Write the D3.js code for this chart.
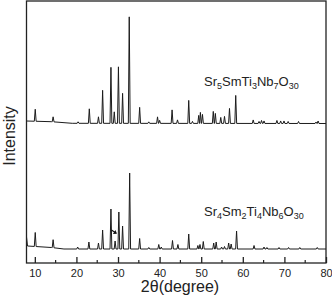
<!DOCTYPE html>
<html>
  <head>
    <script src="https://d3js.org/d3.v7.min.js"></script>
    <style>
      body { margin: 0; background: #fff; }
      text { font-family: Arial, "Liberation Sans", sans-serif; fill: #222; }
    </style>
  </head>
  <body>
    <script>

    // x axis ticks (2theta, degree)
    const majorTicks = [10, 20, 30, 40, 50, 60, 70, 80];
    const minorTicks = [15, 25, 35, 45, 55, 65, 75];

    // Sr5SmTi3Nb7O30 (upper pattern): background and peaks [2theta, height] in a.u.
    const baseA = [[8, 142], [14, 141.3], [19, 139.7], [80, 139.5]];
    const peaksA = [
      [10.1, 12], [14.4, 5], [20.4, 1.5], [23.1, 14.5], [25.3, 6.5], [26.3, 33],
      [28.3, 56], [29.1, 11.5], [30.1, 56.5], [31.1, 30], [32.7, 106.5],
      [35.2, 16], [37.4, 1.5], [39.5, 6.5], [40.0, 3], [43.0, 13.5], [44.3, 3.5],
      [47.0, 23], [47.9, 2], [49.4, 8], [49.8, 11], [50.3, 9], [52.9, 12],
      [53.4, 10], [54.7, 6], [55.6, 7], [56.8, 15], [58.3, 28], [62.5, 3.5],
      [63.9, 2], [64.5, 3], [65.1, 2.5], [68.2, 3], [69.1, 2.5], [69.9, 2.5],
      [70.9, 2], [73.4, 2], [77.6, 1.5], [78.1, 2.5]
    ];

    // Sr4Sm2Ti4Nb6O30 (lower pattern)
    const baseB = [[8, 26], [8.25, 17], [14, 15.5], [17, 14], [80, 14]];
    const peaksB = [
      [10.1, 14], [14.4, 8], [20.3, 2], [23.0, 7], [25.3, 6], [26.3, 19],
      [28.3, 40], [29.3, 8], [30.2, 37], [31.1, 23], [32.8, 76], [35.2, 10.5],
      [37.4, 1.5], [39.8, 4.5], [40.4, 2], [43.1, 8.5], [44.4, 4.5], [47.0, 15],
      [49.2, 3.5], [49.7, 4.5], [50.5, 7.5], [53.0, 6], [53.6, 7], [54.9, 2],
      [55.6, 2.5], [56.6, 6], [57.2, 5], [58.5, 18], [62.7, 3.5], [65.1, 2],
      [65.8, 1.5], [68.7, 1.5], [71.0, 1.5], [73.7, 1.5], [77.9, 1.5]
    ];

    const labelA = [["Sr", ""], ["5", "sub"], ["SmTi", ""], ["3", "sub"], ["Nb", ""], ["7", "sub"], ["O", ""], ["30", "sub"]];
    const labelB = [["Sr", ""], ["4", "sub"], ["Sm", ""], ["2", "sub"], ["Ti", ""], ["4", "sub"], ["Nb", ""], ["6", "sub"], ["O", ""], ["30", "sub"]];

    const width = 332;
    const height = 303;
    const margin = { top: 1, right: 6, bottom: 40, left: 26.5 };

    const x = d3.scaleLinear().domain([8, 80]).range([margin.left, width - margin.right]);
    const y = d3.scaleLinear().domain([0, 262]).range([height - margin.bottom, margin.top]);

    const svg = d3.select("body").append("svg")
        .attr("width", width)
        .attr("height", height);

    // build the profile from background knots + narrow triangular peaks
    function profile(base, peaks) {
      const bg = d3.scaleLinear().domain(base.map(d => d[0])).range(base.map(d => d[1]));
      const w = 0.22;
      let pts = base.map(d => [d[0], d[1]]);
      peaks.forEach(p => {
        pts.push([p[0] - w, bg(p[0] - w)]);
        pts.push([p[0], bg(p[0]) + p[1]]);
        pts.push([p[0] + w, bg(p[0] + w)]);
      });
      pts.sort((a, b) => a[0] - b[0]);
      return pts;
    }

    const line = d3.line().x(d => x(d[0])).y(d => y(d[1]));

    svg.selectAll("path.pattern")
      .data([profile(baseA, peaksA), profile(baseB, peaksB)])
      .enter().append("path")
        .attr("class", "pattern")
        .attr("d", line)
        .attr("fill", "none")
        .attr("stroke", "#1c1c1c")
        .attr("stroke-width", 1)
        .attr("stroke-linejoin", "round");

    // frame
    svg.append("rect")
        .attr("x", x(8))
        .attr("y", y(262))
        .attr("width", x(80) - x(8))
        .attr("height", y(0) - y(262))
        .attr("fill", "none")
        .attr("stroke", "#222")
        .attr("stroke-width", 1.3);

    // inward ticks on the bottom axis
    const axis = svg.append("g").attr("transform", `translate(0,${y(0)})`);
    axis.call(d3.axisBottom(x).tickValues(majorTicks).tickSize(-6).tickPadding(6).tickFormat(d3.format("d")))
      .call(g => g.select(".domain").remove())
      .call(g => g.selectAll("line").attr("stroke", "#222").attr("stroke-width", 1.3))
      .call(g => g.selectAll("text").attr("font-size", 11).attr("fill", "#222")
        .style("font-family", "Arial, 'Liberation Sans', sans-serif"));
    axis.selectAll("line.minor")
      .data(minorTicks)
      .enter().append("line")
        .attr("class", "minor")
        .attr("x1", d => x(d)).attr("x2", d => x(d))
        .attr("y1", 0).attr("y2", -3)
        .attr("stroke", "#222")
        .attr("stroke-width", 1.2);

    // formula labels with subscripts
    function formula(parts, px, py) {
      const t = svg.append("text")
          .attr("x", px)
          .attr("y", py)
          .attr("font-size", 13);
      parts.forEach(p => {
        t.append("tspan")
          .attr("font-size", p[1] ? 9 : 13)
          .attr("baseline-shift", p[1] ? "-3" : null)
          .text(p[0]);
      });
    }
    formula(labelA, 204, 86);
    formula(labelB, 204, 216);

    // small arrow marking the extra reflection near 29.6 deg
    const ax = x(29.5), ay = y(30);
    svg.append("path")
        .attr("d", `M${ax - 4.5},${ay - 3} L${ax},${ay}`)
        .attr("stroke", "#111")
        .attr("stroke-width", 1.1);
    svg.append("path")
        .attr("d", `M${ax + 1},${ay + 0.8} L${ax - 3},${ay + 1} L${ax - 0.5},${ay - 3} Z`)
        .attr("fill", "#111");

    // axis titles
    svg.append("text")
        .attr("transform", "translate(15,136) rotate(-90)")
        .attr("text-anchor", "middle")
        .attr("font-size", 16)
        .text("Intensity");

    svg.append("text")
        .attr("x", 180)
        .attr("y", 292)
        .attr("text-anchor", "middle")
        .attr("font-size", 16)
        .text("2θ(degree)");

    </script>
  </body>
</html>
